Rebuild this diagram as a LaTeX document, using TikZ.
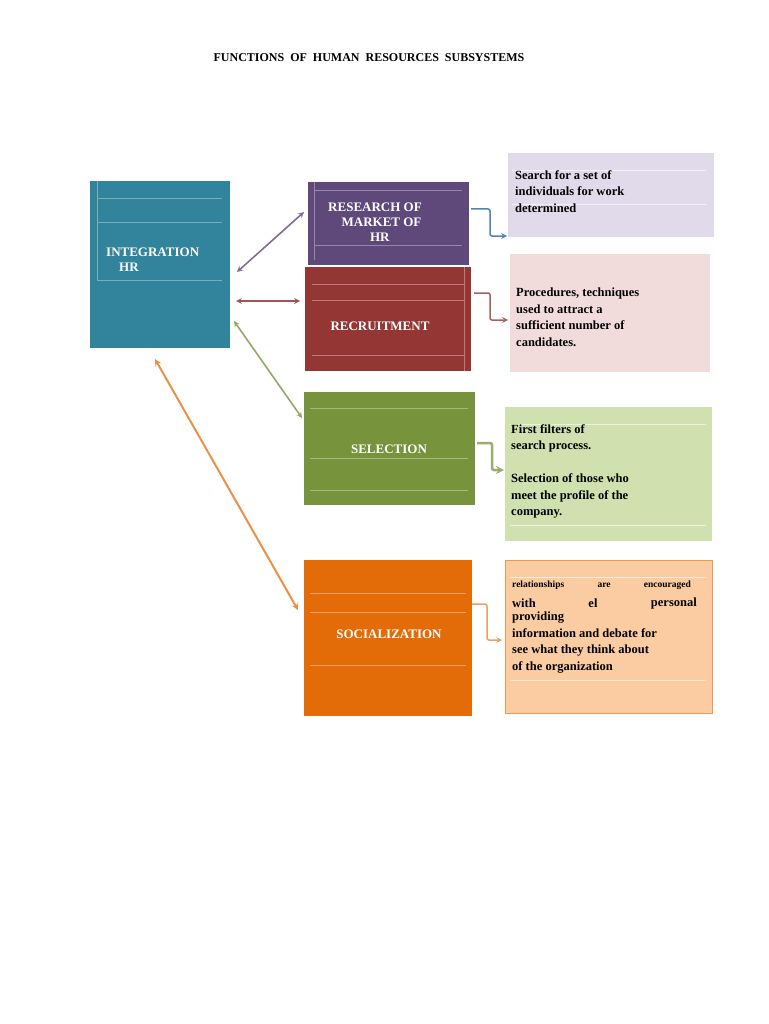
\documentclass[tikz,border=0pt]{standalone}
\usepackage{fontspec}
\setmainfont{Liberation Serif}
\begin{document}
\begin{tikzpicture}[x=1pt,y=-1pt,
  box/.style={inner sep=0},
  wt/.style={text=white,font=\bfseries\fontsize{13}{15}\selectfont,align=center},
  bt/.style={font=\bfseries\fontsize{12.5}{16.5}\selectfont,align=left,anchor=north west,inner sep=0},
  dbl/.style={<->,>=stealth,line width=1.6pt},
  elb/.style={->,>=stealth,line width=1.5pt,rounded corners=2pt},
  faint/.style={white,opacity=0.35,line width=0.5pt}]
\useasboundingbox (0,0) rectangle (768,1024);
\definecolor{teal}{HTML}{31849B}\definecolor{purp}{HTML}{5F497A}
\definecolor{dred}{HTML}{943634}\definecolor{olive}{HTML}{77933C}
\definecolor{orng}{HTML}{E36C09}\definecolor{lav}{HTML}{E0DAEA}
\definecolor{pnk}{HTML}{F2DCDB}\definecolor{lgr}{HTML}{D0E0AE}
\definecolor{pch}{HTML}{FBCBA2}\definecolor{blu}{HTML}{4F81BD}
\node[font=\bfseries\fontsize{12}{14}\selectfont] (title) at (369,58) {FUNCTIONS\ \ OF\ \ HUMAN\ \ RESOURCES\ \ SUBSYSTEMS};
% left boxes
\fill[teal] (90,181) rectangle (230,348);
\draw[faint] (97,181)--(97,280) (97,198)--(222,198) (97,222)--(222,222) (97,280)--(222,280);
\node[wt,align=left,anchor=north west,inner sep=0] (integ) at (106,248) {INTEGRATION\\\ \ \ \ HR};
\coordinate (intc) at (160,264);
\fill[purp] (308,182) rectangle (469,265);
\draw[faint] (314,182)--(314,260) (314,190)--(462,190) (314,245)--(462,245);
\node[wt] (res) at (375,222) {RESEARCH OF\\\ \ \ \ MARKET OF\\\ \ \ HR};
\fill[dred] (305,267) rectangle (471,371);
\draw[faint] (464,267)--(464,371) (312,284)--(464,284) (312,300)--(464,300) (312,355)--(464,355);
\node[wt] (rec) at (380,326) {RECRUITMENT};
\fill[olive] (304,392) rectangle (475,505);
\draw[faint] (310,408)--(468,408) (310,458)--(468,458) (310,490)--(468,490);
\node[wt] (sel) at (389,449) {SELECTION};
\fill[orng] (304,560) rectangle (472,716);
\draw[faint] (310,593)--(466,593) (310,612)--(466,612) (310,665)--(466,665);
\node[wt] (soc) at (389,634) {SOCIALIZATION};
% right boxes
\fill[lav] (508,153) rectangle (714,237);
\draw[faint,opacity=0.6] (512,170)--(706,170) (512,204)--(706,204);
\node[bt] (t1) at (515,170) {Search for a set of\\individuals for work\\determined};
\fill[pnk] (510,254) rectangle (710,372);
\node[bt] (t2) at (516,288) {Procedures, techniques\\used to attract a\\sufficient number of\\candidates.};
\fill[lgr] (505,407) rectangle (712,541);
\draw[faint,opacity=0.6] (510,424)--(706,424) (510,525)--(706,525);
\node[bt] (t3) at (511,424) {First filters of\\search process.\\[16.5pt]Selection of those who\\meet the profile of the\\company.};
\fill[pch,draw=orng!70] (505,560) rectangle (712,713);
\draw[faint,opacity=0.6] (510,577)--(706,577) (510,680)--(706,680);
\node[font=\bfseries\fontsize{9.5}{11}\selectfont,anchor=west,inner sep=0] (s1) at (512,585) {relationships};
\node[font=\bfseries\fontsize{9.5}{11}\selectfont,anchor=center,inner sep=0] (s2) at (604,585) {are};
\node[font=\bfseries\fontsize{9.5}{11}\selectfont,anchor=east,inner sep=0] (s3) at (691,585) {encouraged};
\node[bt,anchor=west] (s4) at (512,603) {with};
\node[bt,anchor=center] (s5) at (593,603) {el};
\node[bt,anchor=east] (s6) at (697,603) {personal};
\node[bt] (s7) at (512,612) {providing\\information and debate for\\see what they think about\\of the organization};
% connectors
\coordinate (a1) at (237,272); \coordinate (b1) at (304,212);
\draw[dbl,purp!80] (a1)--(b1);
\coordinate (a2) at (236,301); \coordinate (b2) at (300,301);
\draw[dbl,dred!85] (a2)--(b2);
\coordinate (a3) at (234,321); \coordinate (b3) at (302,418);
\draw[dbl,olive!80] (a3)--(b3);
\coordinate (a4) at (155,359); \coordinate (b4) at (298,610);
\draw[dbl,orng!75,line width=2pt] (a4)--(b4);
\coordinate (e1) at (471,209); \coordinate (f1) at (507,236);
\draw[elb,blu] (e1)-|(490,236)--(f1);
\coordinate (e2) at (474,293); \coordinate (f2) at (508,320);
\draw[elb,dred!80] (e2)-|(490,320)--(f2);
\coordinate (e3) at (477,443); \coordinate (f3) at (504,470);
\draw[elb,olive!75,line width=2.5pt] (e3)-|(492,470)--(f3);
\coordinate (e4) at (472,604); \coordinate (f4) at (502,640);
\draw[elb,orng!65] (e4)-|(487,640)--(f4);
\end{tikzpicture}
\end{document}
